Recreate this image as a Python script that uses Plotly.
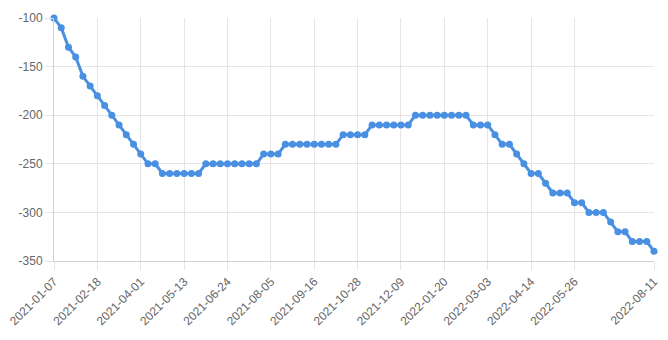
import datetime as dt
import plotly.graph_objects as go

start = dt.date(2021, 1, 7)
dates = [(start + dt.timedelta(weeks=i)).isoformat() for i in range(84)]

values = [
    -100, -110, -130, -140, -160, -170, -180, -190, -200, -210,
    -220, -230, -240, -250, -250, -260, -260, -260, -260, -260,
    -260, -250, -250, -250, -250, -250, -250, -250, -250, -240,
    -240, -240, -230, -230, -230, -230, -230, -230, -230, -230,
    -220, -220, -220, -220, -210, -210, -210, -210, -210, -210,
    -200, -200, -200, -200, -200, -200, -200, -200, -210, -210,
    -210, -220, -230, -230, -240, -250, -260, -260, -270, -280,
    -280, -280, -290, -290, -300, -300, -300, -310, -320, -320,
    -330, -330, -330, -340,
]

x_tick_labels = [
    "2021-01-07", "2021-02-18", "2021-04-01", "2021-05-13", "2021-06-24",
    "2021-08-05", "2021-09-16", "2021-10-28", "2021-12-09", "2022-01-20",
    "2022-03-03", "2022-04-14", "2022-05-26", "2022-08-11",
]
y_tick_vals = [-350, -300, -250, -200, -150, -100]
y_tick_text = ["-350", "-300", "-250", "-200", "-150", "-100"]

color = "#4a90e2"
grid = "#e5e5e5"

fig = go.Figure(
    go.Scatter(
        x=dates,
        y=values,
        mode="lines+markers",
        line=dict(color=color, width=3),
        marker=dict(color=color, size=7),
        cliponaxis=False,
        hoverinfo="x+y",
    )
)

fig.update_layout(
    width=668,
    height=340,
    margin=dict(l=54, r=14, t=18, b=79, autoexpand=False),
    paper_bgcolor="white",
    plot_bgcolor="white",
    showlegend=False,
    font=dict(family="Liberation Sans, Arial, sans-serif", size=12, color="#666666"),
)

fig.update_xaxes(
    type="category",
    categoryorder="array",
    categoryarray=dates,
    range=[0, 83],
    tickmode="array",
    tickvals=x_tick_labels,
    ticktext=x_tick_labels,
    tickangle=-45,
    showgrid=True,
    gridcolor=grid,
    gridwidth=1,
    ticks="outside",
    ticklen=8,
    tickcolor=grid,
    showline=True,
    linecolor="#d0d0d0",
    linewidth=1,
    zeroline=False,
    automargin=False,
)

fig.update_yaxes(
    range=[-350, -100],
    tickmode="array",
    tickvals=y_tick_vals,
    ticktext=y_tick_text,
    showgrid=True,
    gridcolor=grid,
    gridwidth=1,
    ticks="outside",
    ticklen=8,
    tickcolor=grid,
    showline=True,
    linecolor="#d0d0d0",
    linewidth=1,
    zeroline=False,
    automargin=False,
)

fig.write_html("out.html")
